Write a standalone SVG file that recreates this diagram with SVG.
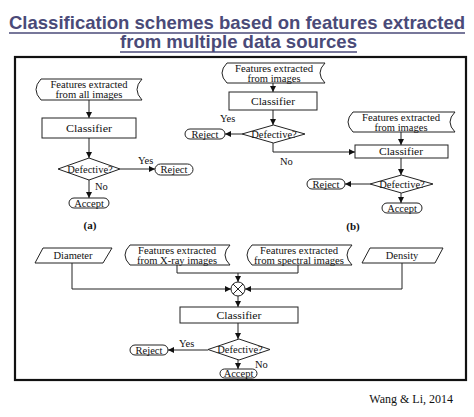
<svg xmlns="http://www.w3.org/2000/svg" width="474" height="417" viewBox="0 0 474 417">
<style>
.title{font-family:"Liberation Sans",Arial,sans-serif;font-weight:bold;font-size:18.5px;fill:#4a4a78}
.t{font-family:"Liberation Serif","Times New Roman",serif;font-size:10.5px;fill:#111;text-anchor:middle}
.t2{font-family:"Liberation Serif","Times New Roman",serif;font-size:9.6px;fill:#111;text-anchor:middle}
.lbl{font-family:"Liberation Serif","Times New Roman",serif;font-size:10.5px;fill:#111}
.cap{font-family:"Liberation Serif","Times New Roman",serif;font-size:11px;font-weight:bold;fill:#111;text-anchor:middle}
.shape{fill:#fff;stroke:#222;stroke-width:1}
.conn{fill:none;stroke:#222;stroke-width:1}
</style>
<defs>
<marker id="ah" markerUnits="userSpaceOnUse" markerWidth="6" markerHeight="6" refX="6" refY="3" orient="auto">
<path d="M0,0 L6,3 L0,6 Z" fill="#111"/>
</marker>
</defs>
<rect width="474" height="417" fill="#fff"/>
<g id="title">
<text class="title" x="237" y="29" text-anchor="middle" textLength="456" lengthAdjust="spacingAndGlyphs">Classification schemes based on features extracted</text>
<line x1="9" y1="33" x2="465" y2="33" stroke="#4a4a78" stroke-width="1.3"/>
<text class="title" x="238.5" y="48" text-anchor="middle" textLength="237" lengthAdjust="spacingAndGlyphs">from multiple data sources</text>
<line x1="120" y1="52" x2="357" y2="52" stroke="#4a4a78" stroke-width="1.3"/>
</g>
<rect id="frame" x="15" y="57" width="451" height="323" fill="none" stroke="#111" stroke-width="2.2"/>

<g id="connectors">
<!-- (a) -->
<path class="conn" d="M89,100 V118" marker-end="url(#ah)"/>
<path class="conn" d="M89,138 V158" marker-end="url(#ah)"/>
<path class="conn" d="M120,169 H155" marker-end="url(#ah)"/>
<path class="conn" d="M89,180 V198" marker-end="url(#ah)"/>
<!-- (b) -->
<path class="conn" d="M273,83 V92" marker-end="url(#ah)"/>
<path class="conn" d="M273,110 V125" marker-end="url(#ah)"/>
<path class="conn" d="M242,134 H225" marker-end="url(#ah)"/>
<path class="conn" d="M273,143 V152 H355" marker-end="url(#ah)"/>
<path class="conn" d="M401,132 V145" marker-end="url(#ah)"/>
<path class="conn" d="M401,158 V175" marker-end="url(#ah)"/>
<path class="conn" d="M370,184 H345" marker-end="url(#ah)"/>
<path class="conn" d="M401,193 V203" marker-end="url(#ah)"/>
<!-- (c) -->
<path class="conn" d="M177,265 V273 H298 V265"/>
<path class="conn" d="M238,273 V282" marker-end="url(#ah)"/>
<path class="conn" d="M72,263 V289 H231" marker-end="url(#ah)"/>
<path class="conn" d="M402,263 V289 H245" marker-end="url(#ah)"/>
<path class="conn" d="M238,296 V307" marker-end="url(#ah)"/>
<path class="conn" d="M238,323 V339" marker-end="url(#ah)"/>
<path class="conn" d="M208,350 H168" marker-end="url(#ah)"/>
<path class="conn" d="M238,360 V369" marker-end="url(#ah)"/>
</g>

<g id="connector-labels">
<text class="lbl" x="138" y="164">Yes</text>
<text class="lbl" x="95" y="190">No</text>
<text class="lbl" x="220" y="122">Yes</text>
<text class="lbl" x="280" y="165">No</text>
<text class="lbl" x="179" y="347">Yes</text>
<text class="lbl" x="255" y="368">No</text>
</g>

<!-- panel (a) -->
<g id="a-features">
<path class="shape" d="M41,79 H142 Q132,89.5 142,100 H41 Q31,89.5 41,79 Z"/>
<text class="t2" x="89" y="87.5" textLength="77" lengthAdjust="spacingAndGlyphs">Features extracted</text>
<text class="t2" x="89" y="97.5" textLength="67" lengthAdjust="spacingAndGlyphs">from all images</text>
</g>
<g id="a-classifier">
<rect class="shape" x="42" y="118" width="94" height="20"/>
<text class="t" x="89" y="131.5" textLength="46" lengthAdjust="spacingAndGlyphs">Classifier</text>
</g>
<g id="a-defective">
<path class="shape" d="M89,158 L120,169 L89,180 L58,169 Z"/>
<text class="t" x="90" y="172.5">Defective?</text>
</g>
<g id="a-reject">
<rect class="shape" x="155" y="164" width="38" height="11" rx="5.5"/>
<text class="t" x="174" y="173">Reject</text>
</g>
<g id="a-accept">
<rect class="shape" x="69" y="198" width="40" height="10" rx="5"/>
<text class="t" x="89" y="206.5">Accept</text>
</g>
<text class="cap" x="90" y="229">(a)</text>

<!-- panel (b) -->
<g id="b-features1">
<path class="shape" d="M227,63 H325 Q315,73 325,83 H227 Q217,73 227,63 Z"/>
<text class="t2" x="274" y="71.5" textLength="78" lengthAdjust="spacingAndGlyphs">Features extracted</text>
<text class="t2" x="274" y="81.5" textLength="53" lengthAdjust="spacingAndGlyphs">from images</text>
</g>
<g id="b-classifier1">
<rect class="shape" x="229" y="92" width="88" height="18"/>
<text class="t" x="273" y="104.5" textLength="44" lengthAdjust="spacingAndGlyphs">Classifier</text>
</g>
<g id="b-defective1">
<path class="shape" d="M273.5,125 L305,134 L273.5,143 L242,134 Z"/>
<text class="t" x="274" y="137.5">Defective?</text>
</g>
<g id="b-reject1">
<rect class="shape" x="185" y="129" width="40" height="10" rx="5"/>
<text class="t" x="205" y="137.5">Reject</text>
</g>
<g id="b-features2">
<path class="shape" d="M353,112 H455 Q445,122 455,132 H353 Q343,122 353,112 Z"/>
<text class="t2" x="401" y="120.5" textLength="78" lengthAdjust="spacingAndGlyphs">Features extracted</text>
<text class="t2" x="401" y="130.5" textLength="53" lengthAdjust="spacingAndGlyphs">from images</text>
</g>
<g id="b-classifier2">
<rect class="shape" x="355" y="145" width="93" height="13"/>
<text class="t" x="401" y="155" textLength="44" lengthAdjust="spacingAndGlyphs">Classifier</text>
</g>
<g id="b-defective2">
<path class="shape" d="M401.5,175 L433,184 L401.5,193 L370,184 Z"/>
<text class="t" x="402" y="187.5">Defective?</text>
</g>
<g id="b-reject2">
<rect class="shape" x="307" y="179" width="38" height="10" rx="5"/>
<text class="t" x="326" y="187.5">Reject</text>
</g>
<g id="b-accept">
<rect class="shape" x="382" y="203" width="40" height="10" rx="5"/>
<text class="t" x="402" y="211.5">Accept</text>
</g>
<text class="cap" x="353" y="230">(b)</text>

<!-- panel (c) -->
<g id="c-diameter">
<path class="shape" d="M43,248 H112 L103,263 H35 Z"/>
<text class="t" x="73" y="259">Diameter</text>
</g>
<g id="c-xray">
<path class="shape" d="M130,245 H230 Q220,255 230,265 H130 Q120,255 130,245 Z"/>
<text class="t2" x="177" y="253.5" textLength="78" lengthAdjust="spacingAndGlyphs">Features extracted</text>
<text class="t2" x="177" y="263.5" textLength="80" lengthAdjust="spacingAndGlyphs">from X-ray images</text>
</g>
<g id="c-spectral">
<path class="shape" d="M252,245 H352 Q342,255 352,265 H252 Q242,255 252,245 Z"/>
<text class="t2" x="299" y="253.5" textLength="78" lengthAdjust="spacingAndGlyphs">Features extracted</text>
<text class="t2" x="299" y="263.5" textLength="90" lengthAdjust="spacingAndGlyphs">from spectral images</text>
</g>
<g id="c-density">
<path class="shape" d="M370,248 H443 L435,263 H362 Z"/>
<text class="t" x="402" y="259">Density</text>
</g>
<g id="c-combine">
<circle class="shape" cx="238" cy="289" r="7"/>
<path class="conn" d="M233,284 L243,294 M243,284 L233,294"/>
</g>
<g id="c-classifier">
<rect class="shape" x="180" y="307" width="118" height="16"/>
<text class="t" x="239" y="318.5" textLength="45" lengthAdjust="spacingAndGlyphs">Classifier</text>
</g>
<g id="c-defective">
<path class="shape" d="M239,339 L270,349.5 L239,360 L208,349.5 Z"/>
<text class="t" x="240" y="353">Defective?</text>
</g>
<g id="c-reject">
<rect class="shape" x="130" y="345" width="38" height="10" rx="5"/>
<text class="t" x="149" y="353.5">Reject</text>
</g>
<g id="c-accept">
<rect class="shape" x="220" y="369" width="37" height="9" rx="4.5"/>
<text class="t" x="238.5" y="377">Accept</text>
</g>

<text id="citation" x="453" y="403" text-anchor="end" font-family="'Liberation Serif','Times New Roman',serif" font-size="12" fill="#111">Wang &amp; Li, 2014</text>
</svg>
